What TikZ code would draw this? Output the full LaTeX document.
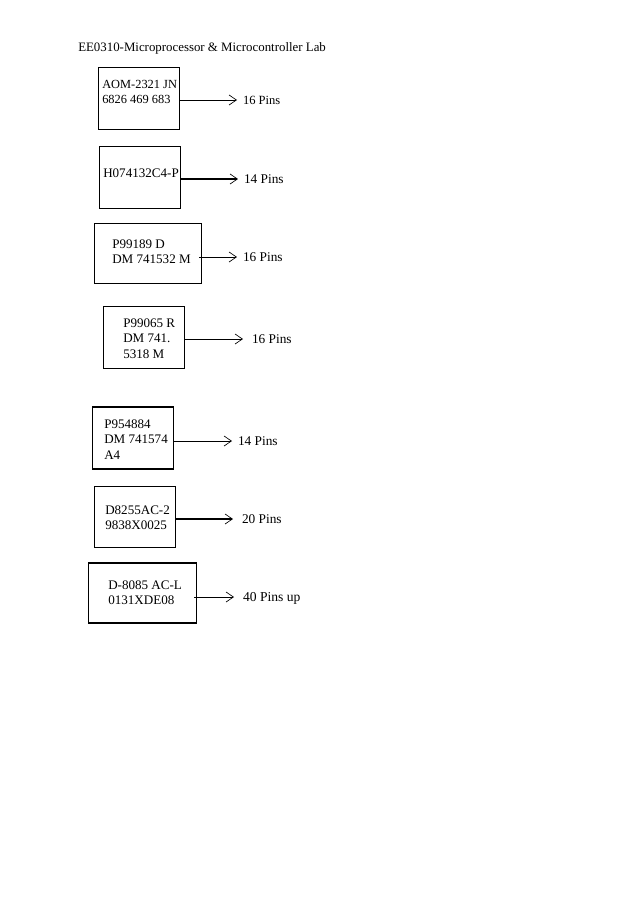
\documentclass[tikz,border=0pt]{standalone}
\usepackage{fontspec}
\setmainfont{Liberation Serif}
\usetikzlibrary{calc}
\usetikzlibrary{arrows.meta}

\tikzset{
  chipbox/.style={draw, line width=0.7pt, inner sep=0pt},
  chiptext/.style={anchor=west, align=left, inner sep=0pt, font=\fontsize{9.8}{11.5}\selectfont},
  pinlabel/.style={anchor=west, inner sep=0pt, outer sep=4.5pt, text height=6.5pt, text depth=0pt, font=\fontsize{10}{11}\selectfont},
  pinline/.style={-{Straight Barb[length=5.5pt,width=7.5pt,line width=0.5pt]}, line width=0.6pt},
}

\begin{document}
\begin{tikzpicture}[x=0.75pt, y=-0.75pt]
  \useasboundingbox (0,0) rectangle (638,903);

  \node [anchor=base west, inner sep=0pt, font=\fontsize{9.65}{11}\selectfont] (title) at (78,51) {EE0310-Microprocessor \& Microcontroller Lab};

  \node [chipbox, minimum width=61pt, minimum height=46.5pt] (box1) at (139,98) {};
  \node [chipbox, minimum width=61pt, minimum height=46.5pt] (box2) at (140,177) {};
  \node [chipbox, minimum width=80.5pt, minimum height=45pt] (box3) at (148,253) {};
  \node [chipbox, minimum width=61pt, minimum height=46.5pt] (box4) at (144,337) {};
  \node [chipbox, line width=0.85pt, minimum width=61pt, minimum height=46.5pt] (box5) at (133,438) {};
  \node [chipbox, minimum width=61pt, minimum height=45.75pt] (box6) at (135,516.5) {};
  \node [chipbox, line width=0.85pt, minimum width=81pt, minimum height=45pt] (box7) at (142.5,593) {};

  \node [chiptext, font=\fontsize{9.3}{11.5}\selectfont] (text1) at (102,92) {AOM-2321 JN\\6826 469 683};
  \node [chiptext] (text2) at (103,173) {H074132C4-P};
  \node [chiptext] (text3) at (112,252) {P99189 D\\DM 741532 M};
  \node [chiptext] (text4) at (123,338.5) {P99065 R\\DM 741.\\5318 M};
  \node [chiptext] (text5) at (104,439.5) {P954884\\DM 741574\\A4};
  \node [chiptext] (text6) at (105,517.5) {D8255AC-2\\9838X0025};
  \node [chiptext] (text7) at (108,592.5) {D-8085 AC-L\\0131XDE08};

  \node [pinlabel, font=\fontsize{9.4}{11}\selectfont] (pins1) at (237,100) {16 Pins};
  \node [pinlabel] (pins2) at (238,179) {14 Pins};
  \node [pinlabel] (pins3) at (237,257) {16 Pins};
  \node [pinlabel, xshift=2.25pt] (pins4) at (243,339) {16 Pins};
  \node [pinlabel] (pins5) at (232,441) {14 Pins};
  \node [pinlabel, xshift=2.25pt] (pins6) at (233,519) {20 Pins};
  \node [pinlabel, xshift=2.25pt, font=\fontsize{10.2}{11}\selectfont] (pins7) at (234,597) {40 Pins up};

  \draw [pinline] (box1.east |- pins1.west) -- (pins1.west);
  \draw [pinline, line width=0.9pt] (box2.east |- pins2.west) -- (pins2.west);
  \draw [pinline] ($ (box3.east |- pins3.west)+(-3,0) $) -- (pins3.west);
  \draw [pinline, shorten >=2.25pt] (box4.east |- pins4.west) -- (pins4.west);
  \draw [pinline] (box5.east |- pins5.west) -- (pins5.west);
  \draw [pinline, line width=0.9pt, shorten >=2.25pt] (box6.east |- pins6.west) -- (pins6.west);
  \draw [pinline, shorten >=2.25pt] ($ (box7.east |- pins7.west)+(-3,0) $) -- (pins7.west);
\end{tikzpicture}
\end{document}
